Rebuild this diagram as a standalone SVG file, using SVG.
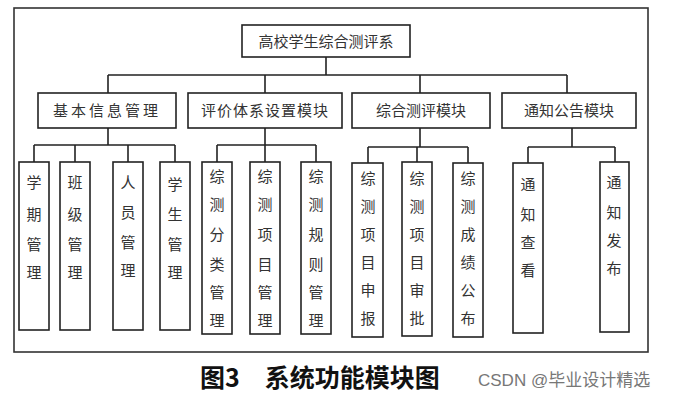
<svg xmlns="http://www.w3.org/2000/svg" width="686" height="400" viewBox="0 0 686 400">
<style>
.b{fill:#fff;stroke:#222;stroke-width:1.6}
.t{font-family:"Noto Sans CJK SC",sans-serif;font-size:15px;fill:#333;text-anchor:middle}
.v{font-family:"Noto Sans CJK SC",sans-serif;font-size:15px;fill:#333;text-anchor:middle}
.c{stroke:#222;stroke-width:1.6;fill:none}
</style>
<rect width="686" height="400" fill="#fff"/>
<rect x="14" y="8" width="634" height="344" fill="none" stroke="#333" stroke-width="1.6"/>
<g id="connectors">
<path class="c" d="M326 57V75M108 75H567M108 75V93M265 75V93M420 75V93M567 75V93"/>
<path class="c" d="M108 128V145M34 145H175M34 145V162M75 145V162M128 145V162M175 145V162"/>
<path class="c" d="M265 128V145M217 145H316M217 145V162M265 145V162M316 145V162"/>
<path class="c" d="M420 128V147M368 147H468M368 147V163M417 147V163M468 147V163"/>
<path class="c" d="M572 128V147M528 147H615M528 147V163M615 147V162"/>
</g>
<g id="root"><rect class="b" x="242" y="25" width="168" height="32"/><text class="t" x="326" y="47">高校学生综合测评系</text></g>
<g id="m1"><rect class="b" x="38" y="93" width="138" height="35"/><text class="t" x="107" y="116" letter-spacing="3">基本信息管理</text></g>
<g id="m2"><rect class="b" x="188" y="93" width="154" height="35"/><text class="t" x="265" y="116" letter-spacing="1">评价体系设置模块</text></g>
<g id="m3"><rect class="b" x="352" y="93" width="138" height="35"/><text class="t" x="421" y="116">综合测评模块</text></g>
<g id="m4"><rect class="b" x="502" y="93" width="134" height="35"/><text class="t" x="569" y="116">通知公告模块</text></g>
<g id="l1"><rect class="b" x="19" y="162" width="30" height="168"/><text class="v" x="34" y="188">学</text><text class="v" x="34" y="220">期</text><text class="v" x="34" y="250">管</text><text class="v" x="34" y="278">理</text></g>
<g id="l2"><rect class="b" x="60" y="162" width="30" height="168"/><text class="v" x="75" y="188">班</text><text class="v" x="75" y="220">级</text><text class="v" x="75" y="250">管</text><text class="v" x="75" y="278">理</text></g>
<g id="l3"><rect class="b" x="113" y="162" width="30" height="168"/><text class="v" x="128" y="188">人</text><text class="v" x="128" y="218">员</text><text class="v" x="128" y="248">管</text><text class="v" x="128" y="276">理</text></g>
<g id="l4"><rect class="b" x="160" y="162" width="30" height="168"/><text class="v" x="175" y="190">学</text><text class="v" x="175" y="220">生</text><text class="v" x="175" y="250">管</text><text class="v" x="175" y="278">理</text></g>
<g id="l5"><rect class="b" x="202" y="162" width="30" height="172"/><text class="v" x="217" y="182">综</text><text class="v" x="217" y="210">测</text><text class="v" x="217" y="240">分</text><text class="v" x="217" y="270">类</text><text class="v" x="217" y="298">管</text><text class="v" x="217" y="326">理</text></g>
<g id="l6"><rect class="b" x="250" y="162" width="30" height="172"/><text class="v" x="265" y="182">综</text><text class="v" x="265" y="210">测</text><text class="v" x="265" y="240">项</text><text class="v" x="265" y="270">目</text><text class="v" x="265" y="298">管</text><text class="v" x="265" y="326">理</text></g>
<g id="l7"><rect class="b" x="301" y="162" width="30" height="172"/><text class="v" x="316" y="182">综</text><text class="v" x="316" y="210">测</text><text class="v" x="316" y="240">规</text><text class="v" x="316" y="270">则</text><text class="v" x="316" y="298">管</text><text class="v" x="316" y="326">理</text></g>
<g id="l8"><rect class="b" x="352" y="163" width="31" height="174"/><text class="v" x="368" y="184">综</text><text class="v" x="368" y="212">测</text><text class="v" x="368" y="240">项</text><text class="v" x="368" y="268">目</text><text class="v" x="368" y="296">申</text><text class="v" x="368" y="324">报</text></g>
<g id="l9"><rect class="b" x="402" y="162" width="30" height="174"/><text class="v" x="417" y="184">综</text><text class="v" x="417" y="212">测</text><text class="v" x="417" y="240">项</text><text class="v" x="417" y="268">目</text><text class="v" x="417" y="296">审</text><text class="v" x="417" y="324">批</text></g>
<g id="l10"><rect class="b" x="453" y="163" width="30" height="174"/><text class="v" x="468" y="184">综</text><text class="v" x="468" y="212">测</text><text class="v" x="468" y="240">成</text><text class="v" x="468" y="268">绩</text><text class="v" x="468" y="296">公</text><text class="v" x="468" y="324">布</text></g>
<g id="l11"><rect class="b" x="513" y="163" width="30" height="170"/><text class="v" x="528" y="190">通</text><text class="v" x="528" y="220">知</text><text class="v" x="528" y="248">查</text><text class="v" x="528" y="276">看</text></g>
<g id="l12"><rect class="b" x="600" y="162" width="29" height="170"/><text class="v" x="614" y="188">通</text><text class="v" x="614" y="218">知</text><text class="v" x="614" y="246">发</text><text class="v" x="614" y="274">布</text></g>
<text x="200" y="387" font-family="Noto Sans CJK SC,sans-serif" font-weight="bold" font-size="25" fill="#111">图3　系统功能模块图</text>
<text x="478" y="386" font-family="Liberation Sans,Noto Sans CJK SC,sans-serif" font-size="17" fill="#777">CSDN @毕业设计精选</text>
</svg>
